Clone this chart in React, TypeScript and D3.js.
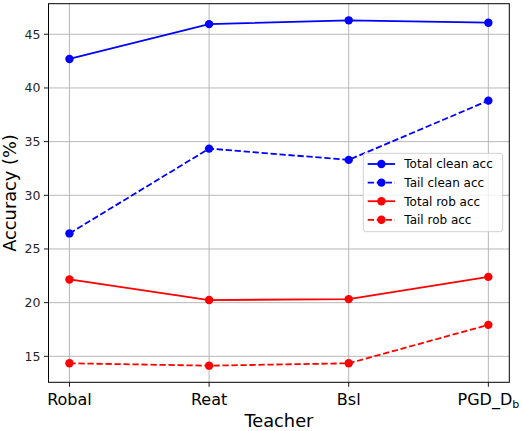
import React, { useEffect, useRef } from "react";
import * as d3 from "d3";

const teachers = ["Robal", "Reat", "Bsl", "PGD_D"];
const totalClean = [42.7, 45.95, 46.3, 46.08];
const tailClean = [26.45, 34.35, 33.3, 38.82];
const totalRob = [22.16, 20.24, 20.33, 22.4];
const tailRob = [14.35, 14.13, 14.35, 17.93];
const yTicks = [15, 20, 25, 30, 35, 40, 45];
const seriesNames = ["Total clean acc", "Tail clean acc", "Total rob acc", "Tail rob acc"];
const seriesColors = ["#0000ff", "#0000ff", "#ff0000", "#ff0000"];
const seriesDashed = [false, true, false, true];

const W = 522;
const H = 431;
const M = { left: 48.5, right: 509.3, top: 3.7, bottom: 382.3 };
const FONT = "DejaVu Sans, sans-serif";

export default function App() {
  const ref = useRef<SVGSVGElement>(null);
  useEffect(() => {
    const svg = d3.select(ref.current);
    svg.selectAll("*").remove();
    const x = d3.scaleLinear().domain([-0.15, 3.15]).range([M.left, M.right]);
    const y = d3.scaleLinear().domain([12.58, 47.85]).range([M.bottom, M.top]);
    const idx = teachers.map((_, i) => i);

    // grid
    const g = svg.append("g");
    g.selectAll("line.vg").data(idx).enter().append("line")
      .attr("x1", (d) => x(d)).attr("x2", (d) => x(d))
      .attr("y1", M.top).attr("y2", M.bottom)
      .attr("stroke", "#b0b0b0").attr("stroke-width", 0.9);
    g.selectAll("line.hg").data(yTicks).enter().append("line")
      .attr("x1", M.left).attr("x2", M.right)
      .attr("y1", (d) => y(d)).attr("y2", (d) => y(d))
      .attr("stroke", "#b0b0b0").attr("stroke-width", 0.9);

    // series
    const all = [totalClean, tailClean, totalRob, tailRob];
    const line = d3.line<number>().x((_, i) => x(i)).y((d) => y(d));
    all.forEach((vals, s) => {
      svg.append("path").datum(vals).attr("d", line)
        .attr("fill", "none").attr("stroke", seriesColors[s]).attr("stroke-width", 1.8)
        .attr("stroke-dasharray", seriesDashed[s] ? "6.3,2.7" : null);
      svg.selectAll(null).data(vals).enter().append("circle")
        .attr("cx", (_, i) => x(i)).attr("cy", (d) => y(d)).attr("r", 4.2)
        .attr("fill", seriesColors[s]);
    });

    // axes frame
    svg.append("rect").attr("x", M.left).attr("y", M.top)
      .attr("width", M.right - M.left).attr("height", M.bottom - M.top)
      .attr("fill", "none").attr("stroke", "#000").attr("stroke-width", 1);

    // y ticks
    yTicks.forEach((t) => {
      svg.append("line").attr("x1", M.left - 4.5).attr("x2", M.left)
        .attr("y1", y(t)).attr("y2", y(t)).attr("stroke", "#000").attr("stroke-width", 0.9);
      svg.append("text").attr("x", M.left - 8).attr("y", y(t)).attr("dy", "0.36em")
        .attr("text-anchor", "end").attr("font-family", FONT).attr("font-size", 12.5)
        .attr("fill", "#262626").text(String(t));
    });
    // x ticks
    teachers.forEach((t, i) => {
      svg.append("line").attr("x1", x(i)).attr("x2", x(i))
        .attr("y1", M.bottom).attr("y2", M.bottom + 4.5).attr("stroke", "#000").attr("stroke-width", 0.9);
      const tx = svg.append("text").attr("x", x(i)).attr("y", 405)
        .attr("text-anchor", "middle").attr("font-family", FONT).attr("font-size", 16)
        .attr("fill", "#000");
      tx.append("tspan").text(t);
      if (t === "PGD_D") {
        tx.append("tspan").attr("font-size", 11).attr("dy", 3).text("b");
      }
    });

    // axis labels
    svg.append("text").attr("x", (M.left + M.right) / 2).attr("y", 427)
      .attr("text-anchor", "middle").attr("font-family", FONT).attr("font-size", 17.8)
      .text("Teacher");
    svg.append("text").attr("transform", `translate(16, ${(M.top + M.bottom) / 2}) rotate(-90)`)
      .attr("text-anchor", "middle").attr("font-family", FONT).attr("font-size", 17.8)
      .text("Accuracy (%)");

    // legend
    const lx = 363.3, ly = 153.3, lw = 139.4, lh = 78.4;
    svg.append("rect").attr("x", lx).attr("y", ly).attr("width", lw).attr("height", lh)
      .attr("rx", 2.5).attr("fill", "#fff").attr("fill-opacity", 0.8)
      .attr("stroke", "#cccccc").attr("stroke-width", 0.9);
    seriesNames.forEach((n, s) => {
      const yy = 164 + s * 18.6;
      svg.append("line").attr("x1", 367.7).attr("x2", 395).attr("y1", yy).attr("y2", yy)
        .attr("stroke", seriesColors[s]).attr("stroke-width", 1.8)
        .attr("stroke-dasharray", seriesDashed[s] ? "6.3,2.7" : null);
      svg.append("circle").attr("cx", 381.4).attr("cy", yy).attr("r", 4.2).attr("fill", seriesColors[s]);
      svg.append("text").attr("x", 404.3).attr("y", yy).attr("dy", "0.36em")
        .attr("font-family", FONT).attr("font-size", 12).attr("fill", "#000").text(n);
    });
  }, []);
  return (
    <svg ref={ref} width={W} height={H}
      style={{ position: "absolute", left: 0, top: 0, background: "#fff" }} />
  );
}
